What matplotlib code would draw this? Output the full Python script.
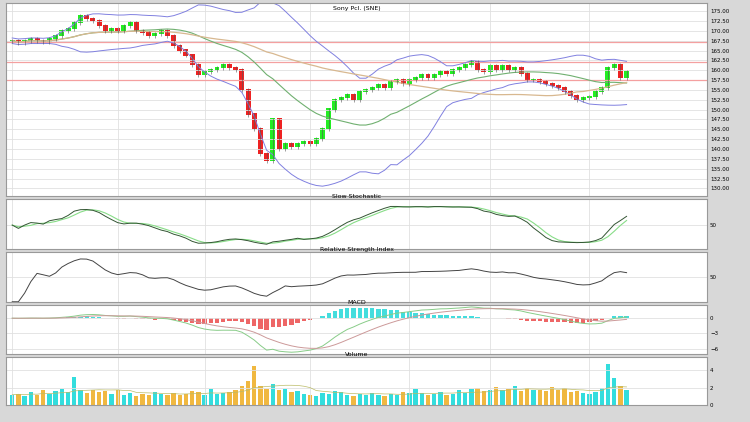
import numpy as np
import pandas as pd
import matplotlib
matplotlib.use("Agg")
import matplotlib.pyplot as plt

# daily closes
closes = [167.5, 167, 167.5, 168, 167.5, 167.25, 168,
          168.75, 170, 170.5, 172, 173.75, 173,
          172.5, 171.25, 170, 170.5, 170, 171.25, 172,
          170, 169.5, 168.75, 169.25, 170, 168.75,
          166.25, 165, 163.75, 161.25, 158.75,
          159.5, 160, 160.5, 161.25, 160.5, 160,
          155, 148.75, 145, 138.75, 137,
          147.5, 140, 141.25,
          140.5, 141.25, 141.75, 141.25, 142.5, 145, 150,
          152.5, 153, 153.75, 152.5, 154.5, 155, 155.5,
          156.25, 155.5, 157, 157.5, 156.5, 157.5, 158,
          158.75, 158, 158.75, 159.5, 159, 160, 160.5,
          161.25, 162, 160, 159.5, 161, 160,
          161, 160, 160.5, 159, 157.5,
          157.5, 157, 156.5, 156, 155.5, 154.5, 153.5,
          152.5, 153, 153.25, 154.5, 155.5,
          160.5, 161.25, 158, 159.5]
volume = [1.2, 1.3, 1.1, 1.5, 1.2, 1.8, 1.3, 1.6, 1.9, 1.5, 3.2, 1.7, 1.4,
          1.8, 1.5, 1.6, 1.3, 1.7, 1.2, 1.4, 1.1, 1.3, 1.2, 1.5, 1.3, 1.2,
          1.4, 1.2, 1.3, 1.6, 1.5, 1.2, 1.9, 1.3, 1.4, 1.5, 1.8, 2.2, 2.8, 4.5,
          2.2, 1.9, 2.4, 1.7, 1.9, 1.5, 1.6, 1.3, 1.2, 1.1, 1.4, 1.3, 1.6, 1.5,
          1.2, 1.1, 1.3, 1.2, 1.4, 1.2, 1.1, 1.3, 1.2, 1.5, 1.4, 1.9, 1.4, 1.2,
          1.3, 1.5, 1.2, 1.3, 1.7, 1.4, 1.9, 2.0, 1.6, 1.8, 2.1, 1.7, 1.9, 2.2,
          1.6, 2.0, 1.7, 1.8, 1.6, 2.1, 1.8, 2.0, 1.5, 1.6, 1.4, 1.3, 1.5,
          2.0, 4.7, 3.1, 2.2, 1.7]
levels = [167.25, 162, 157.5]
month_labels = ["Oct", "Nov", "Dec", "Jan", "Feb", "Mar", "Apr"]
month_pos = [0, 17, 31, 48, 64, 77, 93]

c = pd.Series(closes)
o = c.shift(1).fillna(c.iloc[0])
hi = np.maximum(o, c) + 0.5
lo = np.minimum(o, c) - 0.5
n = len(c)
x = np.arange(n)
up = (c >= o).to_numpy()

ma20 = c.rolling(20, min_periods=1).mean()
sd20 = c.rolling(20, min_periods=5).std().bfill()
ma50 = c.rolling(50, min_periods=1).mean()
ema12 = c.ewm(span=12).mean()
ema26 = c.ewm(span=26).mean()
macd = ema12 - ema26
sig = macd.ewm(span=9).mean()
d = c.diff().fillna(0)
gain = d.clip(lower=0).ewm(alpha=1 / 14).mean()
loss = (-d.clip(upper=0)).ewm(alpha=1 / 14).mean().replace(0, 1e-6)
rsi = (100 - 100 / (1 + gain / loss)).rolling(3, min_periods=1).mean()
lmin = lo.rolling(20, min_periods=1).min()
hmax = hi.rolling(20, min_periods=1).max()
k = (100 * (c - lmin) / (hmax - lmin)).rolling(5, min_periods=1).mean()
dline = k.rolling(3, min_periods=1).mean()

fig = plt.figure(figsize=(7.5, 4.22), dpi=100)
fig.patch.set_facecolor("#d8d8d8")
L, W = 0.008, 0.935
ax = fig.add_axes([L, 0.535, W, 0.457])
a1 = fig.add_axes([L, 0.41, W, 0.118], sharex=ax)
a2 = fig.add_axes([L, 0.285, W, 0.118], sharex=ax)
a3 = fig.add_axes([L, 0.16, W, 0.118], sharex=ax)
a4 = fig.add_axes([L, 0.04, W, 0.113], sharex=ax)

for a in (ax, a1, a2, a3, a4):
    a.set_facecolor("white")
    a.grid(True, color="#e0e0e0", lw=0.6)
    a.yaxis.tick_right()
    a.tick_params(labelsize=4, length=0, pad=2)
    for s in a.spines.values():
        s.set_color("#999999")
    plt.setp(a.get_xticklabels(), visible=False)

# price panel
for lv in levels:
    ax.axhline(lv, color="#f4a0a0", lw=0.9)
ax.plot(x, ma20 + 2 * sd20, color="#8080e0", lw=0.7)
ax.plot(x, ma20 - 2 * sd20, color="#8080e0", lw=0.7)
ax.plot(x, ma20, color="#70b070", lw=0.8)
ax.plot(x, ma50, color="#d8b890", lw=0.9)
cols = np.where(up, "#22ee22", "#ee2222")
ax.vlines(x, lo, hi, color="#555555", lw=0.4)
ax.bar(x, np.abs(c - o) + 0.3, bottom=np.minimum(o, c), color=cols, width=0.8)
ax.set_xlim(-1, 112)
ax.set_ylim(128, 177)
ax.set_yticks(np.arange(130, 177.5, 2.5))
ax.yaxis.set_major_formatter(matplotlib.ticker.FormatStrFormatter("%.2f"))
ax.text(0.5, 0.985, "Sony Pcl. (SNE)", transform=ax.transAxes, ha="center", va="top", fontsize=4.5)

# stochastic
a1.plot(x, dline, color="#88dd88", lw=0.8)
a1.plot(x, k, color="#335533", lw=0.7)
a1.set_ylim(-10, 115)
a1.set_yticks([50])
a1.set_title("Slow Stochastic", fontsize=4.5, pad=-5)

# RSI
a2.plot(x, rsi, color="#444444", lw=0.7)
a2.set_ylim(0, 100)
a2.set_yticks([50])
a2.set_title("Relative Strength Index", fontsize=4.5, pad=-5)

# MACD
hist = (macd - sig).to_numpy()
a3.bar(x, hist, color=np.where(hist >= 0, "#44dddd", "#ee6666"), width=0.7)
a3.plot(x, macd, color="#88cc88", lw=0.7)
a3.plot(x, sig, color="#cc9999", lw=0.7)
a3.set_yticks([-6, -3, 0])
a3.set_title("MACD", fontsize=4.5, pad=-5)

# volume
a4.bar(x, volume, color=np.where(up, "#33dddd", "#f0b840"), width=0.7)
a4.plot(x, pd.Series(volume).rolling(10, min_periods=1).mean(), color="#bbbb66", lw=0.5)
a4.set_ylim(0, 5.5)
a4.set_yticks([0, 2, 4])
a4.set_title("Volume", fontsize=4.5, pad=-5)
a4.set_xticks(month_pos)
a4.set_xticklabels(month_labels)
plt.setp(a4.get_xticklabels(), visible=True, fontsize=4)

fig.savefig("out.png", dpi=100, facecolor=fig.get_facecolor())
